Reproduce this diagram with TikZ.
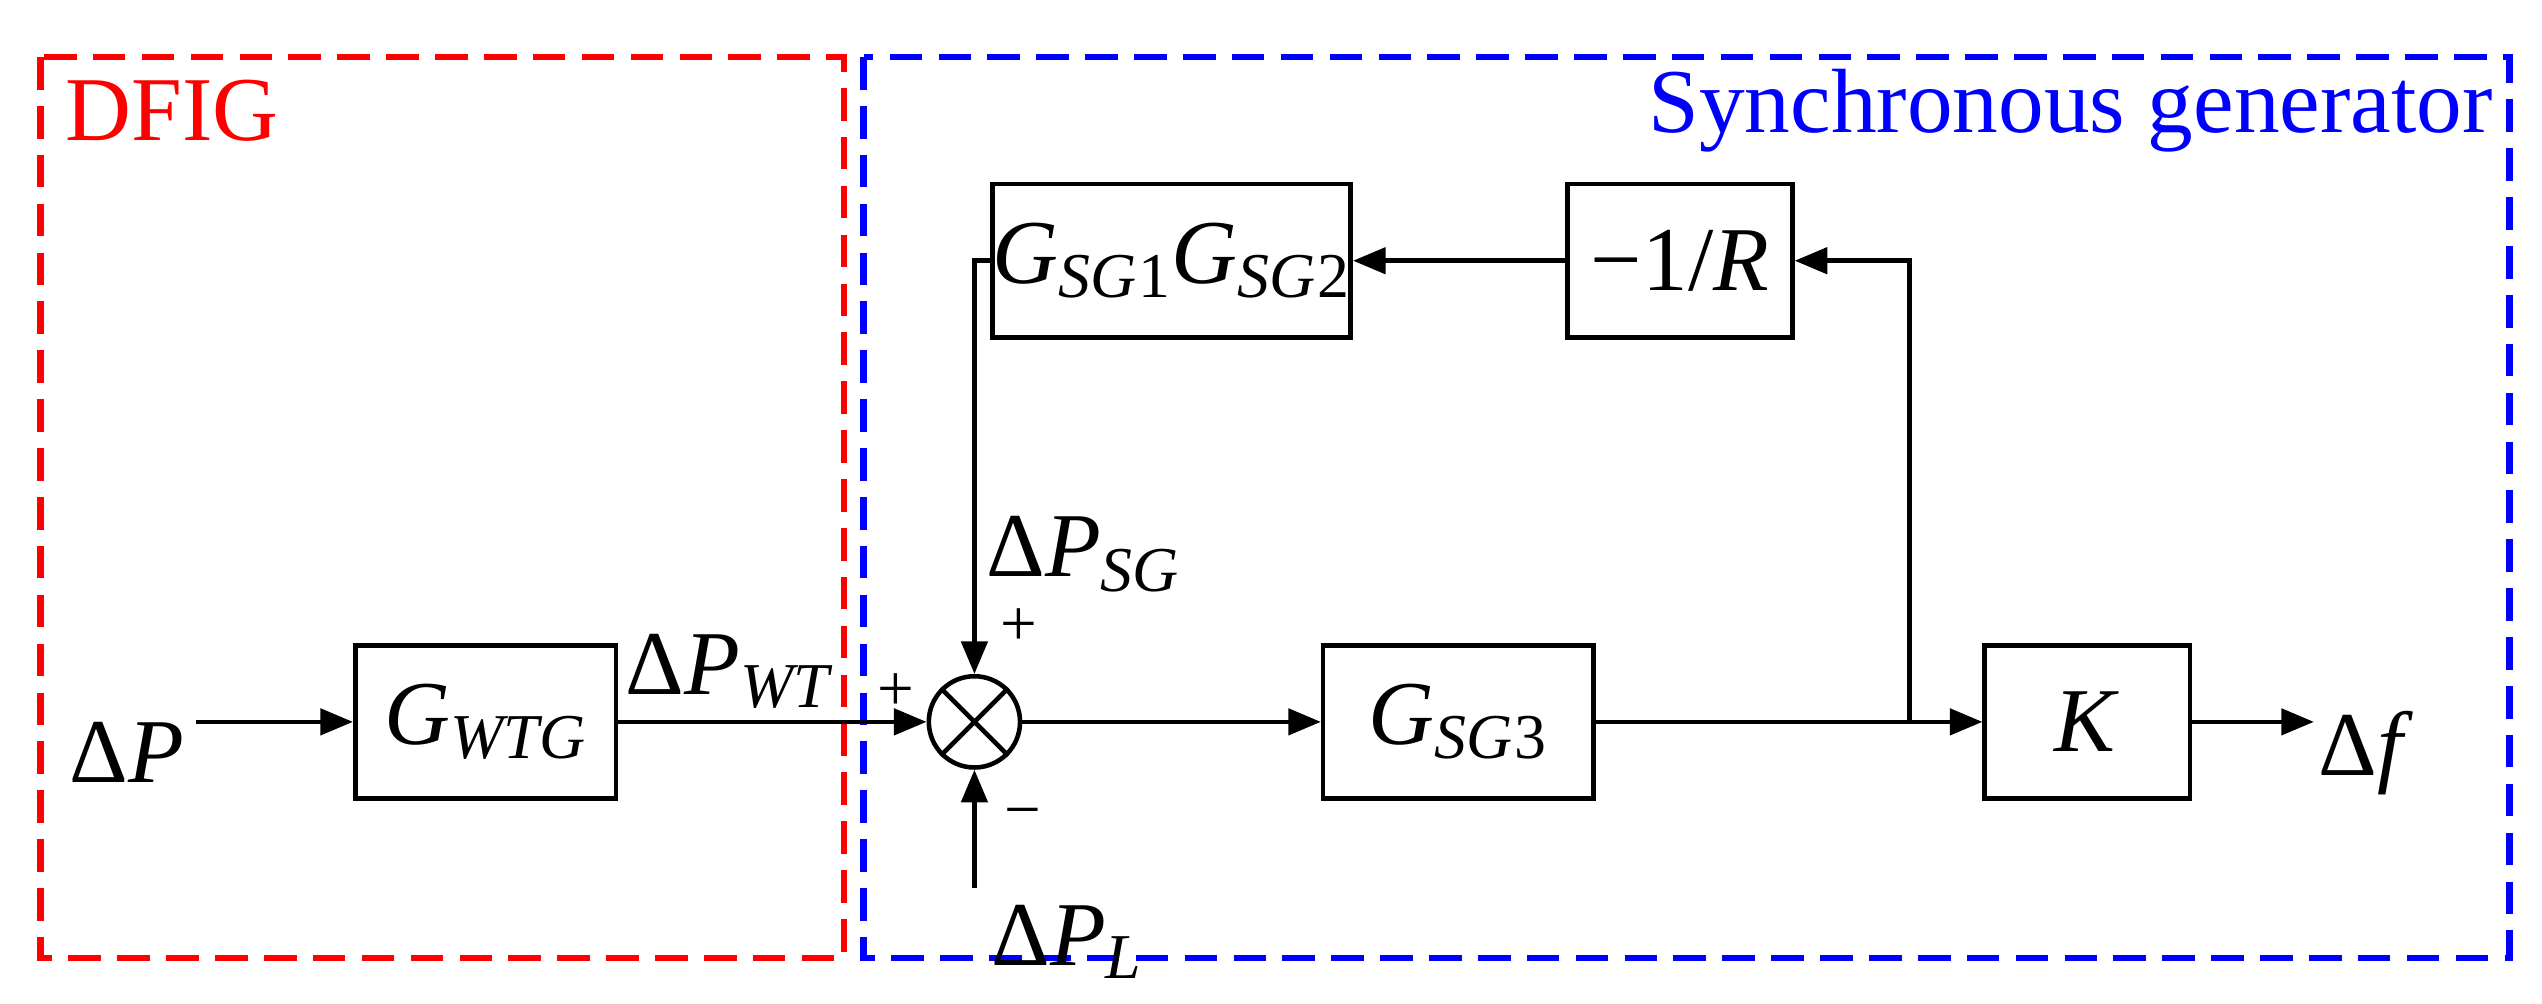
\documentclass[tikz,border=0pt]{standalone}
\usepackage{fontspec}
\setmainfont{Liberation Serif}
\usetikzlibrary{arrows.meta}
\newcommand{\ii}[1]{\textit{#1}}
\newcommand{\ssb}[1]{\textsubscript{\textit{#1}}}
\begin{document}
\begin{tikzpicture}[x=0.5pt,y=-0.5pt,
  blk/.style={draw,line width=1.4pt,minimum height=47pt,inner sep=0pt},
  ln/.style={line width=1.4pt},
  ar/.style={ln,-{Triangle[length=10pt,width=8pt]}},
  txt/.style={font=\fontsize{28}{30}\selectfont,inner sep=0pt},
  sgn/.style={font=\fontsize{20}{22}\selectfont,inner sep=0pt}]
\useasboundingbox (0,0) rectangle (1560,616);
\draw[red,line width=2pt,dash pattern=on 10pt off 5pt] (25,35) rectangle (518,588);
\draw[blue,line width=2pt,dash pattern=on 10pt off 5pt] (530,35) rectangle (1540,588);
\node[txt,red,anchor=west] (dfig) at (40,68) {DFIG};
\node[txt,blue,anchor=east] (sgl) at (1530,68) {Synchronous generator};
\node[txt] (dp) at (78,462) {Δ\ii{P}};
\node[blk,minimum width=80pt,txt] (gwtg) at (298,443) {\ii{G}\ssb{WTG}};
\node[circle,draw,line width=1.4pt,minimum size=28pt,inner sep=0pt] (sum) at (598,443) {};
\draw[line width=1.4pt] (sum.north west)--(sum.south east) (sum.north east)--(sum.south west);
\node[blk,minimum width=83pt,txt] (g3) at (895,443) {\ii{G}\ssb{SG}\textsubscript{3}};
\node[blk,minimum width=63pt,txt] (k) at (1281,443) {\ii{K}};
\node[blk,minimum width=80pt,txt] (g12) at (719,160) {\ii{G}\ssb{SG}\textsubscript{1}\ii{G}\ssb{SG}\textsubscript{2}};
\node[blk,minimum width=69pt,txt] (r) at (1031,160) {−1/\ii{R}};
\node[txt] (df) at (1452,462) {Δ\ii{f}};
\coordinate (dpe) at (120,443);
\coordinate (dfe) at (1420,443);
\coordinate (br) at (1172,443);
\coordinate (pl) at (598,545);
\draw[ar] (dpe)--(gwtg.west);
\draw[ar] (gwtg.east)--(sum.west);
\draw[ar] (sum.east)--(g3.west);
\draw[ar] (g3.east)--(k.west);
\draw[ar] (k.east)--(dfe);
\draw[ar] (br)|-(r.east);
\draw[ar] (r.west)--(g12.east);
\draw[ar] (g12.west)-|(sum.north);
\draw[ar] (pl)--(sum.south);
\node[txt] (lwt) at (448,412) {Δ\ii{P}\ssb{WT}};
\node[txt] (lsg) at (665,340) {Δ\ii{P}\ssb{SG}};
\node[txt] (lpl) at (655,578) {Δ\ii{P}\ssb{L}};
\node[sgn] (p1) at (550,425) {+};
\node[sgn] (p2) at (625,385) {+};
\node[sgn] (m1) at (628,503) {−};
\end{tikzpicture}
\end{document}
